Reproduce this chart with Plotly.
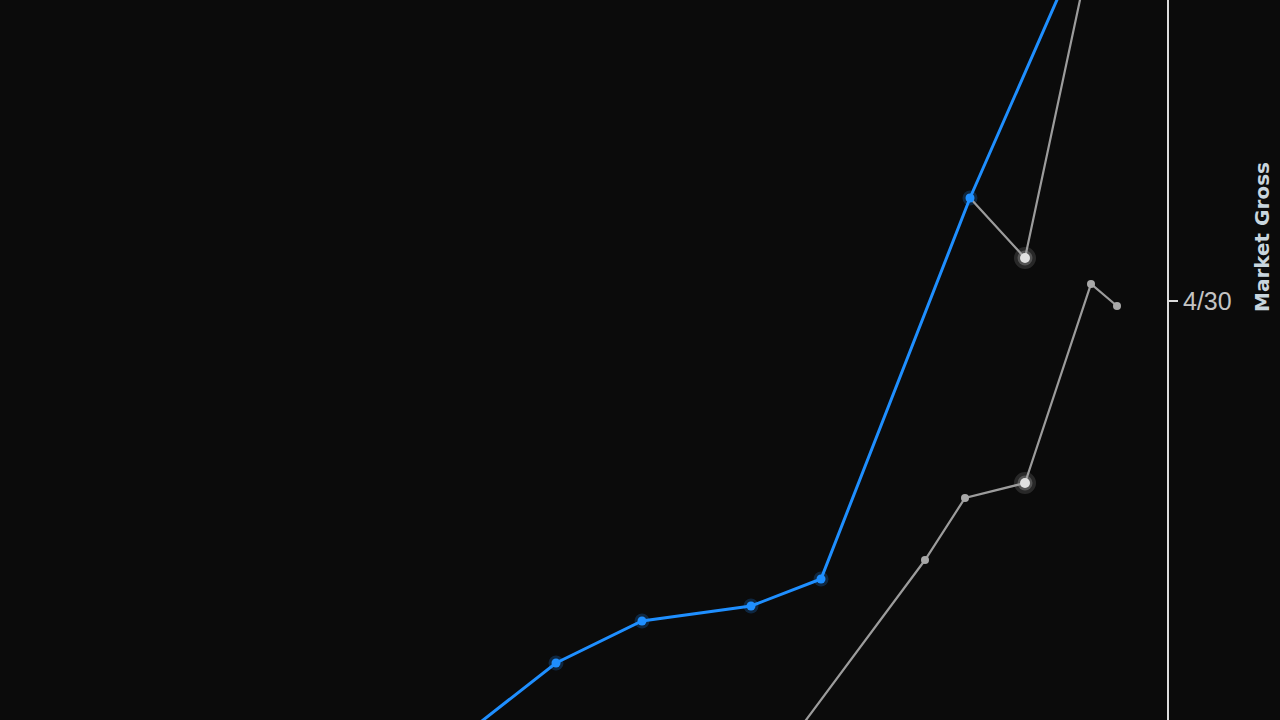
import plotly.graph_objects as go

# data (x in day units, y in index units)
blue_x = [45.0, 55.6, 64.2, 75.1, 82.1, 97.0, 111.0]
blue_y = [-0.15, 0.68, 1.10, 1.25, 1.52, 5.33, 8.52]

grayA_x = [78.0, 92.5, 96.5, 102.5, 109.1, 111.7]
grayA_y = [-0.24, 1.71, 2.33, 2.48, 4.47, 4.25]

grayB_x = [97.0, 102.5, 110.0]
grayB_y = [5.33, 4.73, 8.25]

glow_x = [102.5, 102.5]
glow_y = [4.73, 2.48]

tick_vals = [4.30]
tick_text = ["4/30"]
axis_title = "Market Gross"

BG = "#0b0b0b"
BLUE = "#1f8fff"
GRAY = "#9c9c9c"

fig = go.Figure()

# glow halos
fig.add_trace(go.Scatter(x=blue_x, y=blue_y, mode="markers",
                         marker=dict(size=15, color="rgba(31,143,255,0.22)"),
                         hoverinfo="skip", showlegend=False))
fig.add_trace(go.Scatter(x=glow_x, y=glow_y, mode="markers",
                         marker=dict(size=22, color="rgba(255,255,255,0.12)"),
                         hoverinfo="skip", showlegend=False))
fig.add_trace(go.Scatter(x=glow_x, y=glow_y, mode="markers",
                         marker=dict(size=15, color="rgba(255,255,255,0.2)"),
                         hoverinfo="skip", showlegend=False))

fig.add_trace(go.Scatter(x=grayA_x, y=grayA_y, mode="lines+markers",
                         line=dict(color=GRAY, width=2.2),
                         marker=dict(size=8, color="#a8a8a8"),
                         showlegend=False))
fig.add_trace(go.Scatter(x=grayB_x, y=grayB_y, mode="lines+markers",
                         line=dict(color=GRAY, width=2.2),
                         marker=dict(size=8, color="#a8a8a8"),
                         showlegend=False))
fig.add_trace(go.Scatter(x=glow_x, y=glow_y, mode="markers",
                         marker=dict(size=10, color="#e0e0e0"),
                         hoverinfo="skip", showlegend=False))
fig.add_trace(go.Scatter(x=blue_x, y=blue_y, mode="lines+markers",
                         line=dict(color=BLUE, width=3),
                         marker=dict(size=9, color=BLUE),
                         showlegend=False))

fig.update_layout(
    width=1280, height=720,
    paper_bgcolor=BG, plot_bgcolor=BG,
    margin=dict(l=0, r=113, t=0, b=0),
    xaxis=dict(range=[0, 116.7], visible=False, showgrid=False, zeroline=False),
    yaxis=dict(range=[0.11, 7.31], side="right", showgrid=False, zeroline=False,
               showline=True, linecolor="#dcdcdc", linewidth=2,
               ticks="outside", ticklen=9, tickwidth=2, tickcolor="#dcdcdc",
               tickvals=tick_vals, ticktext=tick_text,
               tickfont=dict(family="Liberation Sans", size=25, color="#c4c4c4")),
    annotations=[dict(text="<b>" + axis_title + "</b>", xref="paper", yref="paper",
                      x=(1262 / 1167), y=1 - 237 / 720, showarrow=False,
                      textangle=-90, xanchor="center", yanchor="middle",
                      font=dict(family="DejaVu Sans", size=20, color="#c9d6de"))],
    font=dict(family="Liberation Sans"),
)

fig.write_html("out.html", config={"displayModeBar": False},
               post_script="document.body.style.margin='0';document.body.style.background='#0b0b0b';")
